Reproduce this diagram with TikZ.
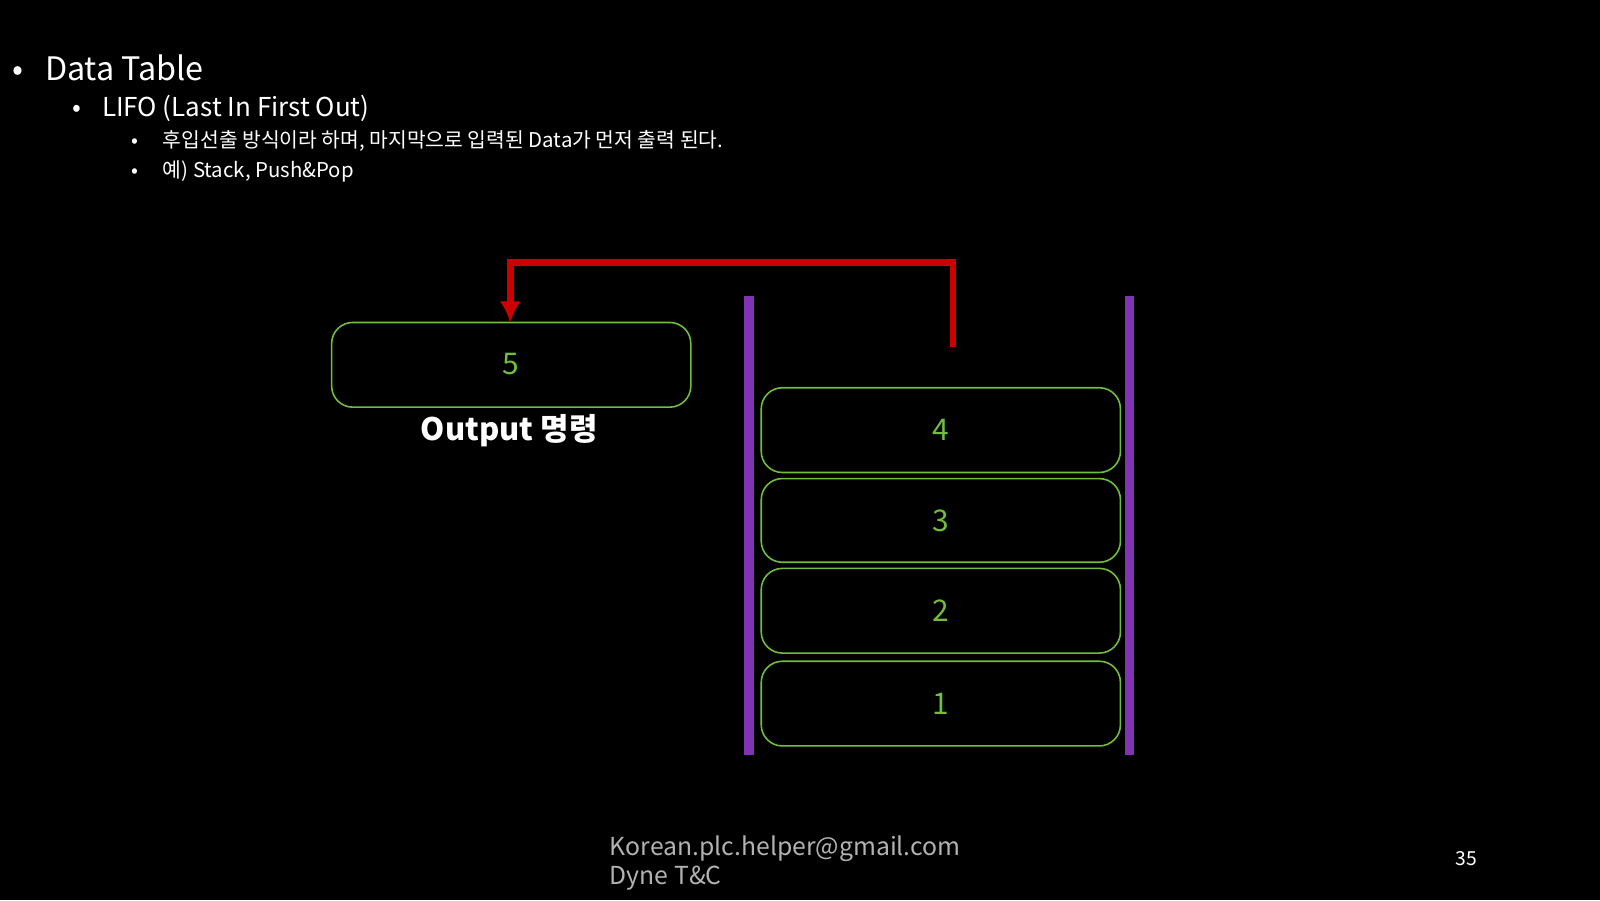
\documentclass[tikz,border=0pt]{standalone}
\usepackage{fontspec}
\usetikzlibrary{arrows.meta}
\setmainfont{Noto Sans CJK KR}
\definecolor{boxg}{RGB}{112,190,60}
\begin{document}
\begin{tikzpicture}[x=0.010204cm,y=-0.010204cm,
  txt/.style={text=white,anchor=west,inner sep=0pt},
  cell/.style={draw=boxg,line width=0.45pt,rounded corners=6pt},
  num/.style={text=boxg,font=\fontsize{8.5}{10}\selectfont}]
\fill[black] (0,0) rectangle (1568,882);
\useasboundingbox (0,0) rectangle (1568,882);
\node[txt,font=\fontsize{9.2}{11}\selectfont] (b1) at (12,66) {•\hspace{6pt}Data Table};
\node[txt,font=\fontsize{7.4}{9}\selectfont] (b2) at (70,106) {•\hspace{6pt}LIFO (Last In First Out)};
\node[txt,font=\fontsize{5.8}{7}\selectfont] (b3) at (128,138) {•\hspace{7pt}후입선출 방식이라 하며,\ 마지막으로 입력된\ Data가 먼저 출력\ 된다.};
\node[txt,font=\fontsize{5.8}{7}\selectfont] (b4) at (128,168) {•\hspace{7pt}예) Stack, Push\&Pop};
\path[cell] (325,316) rectangle (677,399);
\node[num] (t5) at (501,357) {5};
\node[text=white,font=\bfseries\fontsize{8.8}{11}\selectfont] (out) at (499,422) {Output 명령};
\fill[violet!75!blue!80] (729.5,290) rectangle (738.5,740);
\fill[violet!75!blue!80] (1102.5,290) rectangle (1111.5,740);
\foreach \n/\a/\b in {4/380/463,3/469/551,2/557/640,1/648/731}{
  \draw[cell] (746,\a) rectangle (1098,\b);
  \node[num] (s\n) at (922,{(\a+\b)/2}) {\n};
}
\coordinate (st) at (934,340);
\coordinate (en) at (500,316);
\draw[red!80!black,line width=1.9pt,-{Latex[length=6pt,width=6pt]}] (st) -- (934,257) -- (500,257) -- (en);
\node[txt,text=gray!60,font=\fontsize{7.05}{8.5}\selectfont] (f1) at (597,832) {Korean.plc.helper@gmail.com};
\node[txt,text=gray!60,font=\fontsize{7.05}{8.5}\selectfont] (f2) at (597,861) {Dyne T\&C};
\node[text=white,font=\fontsize{5.5}{7}\selectfont] (pg) at (1437,841) {35};
\end{tikzpicture}
\end{document}
